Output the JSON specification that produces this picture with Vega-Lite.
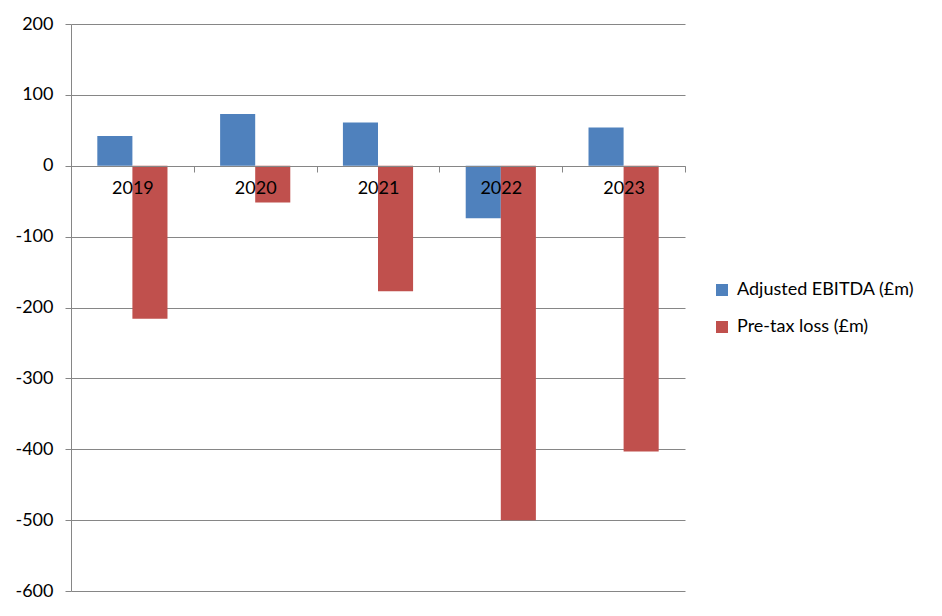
{
  "$schema": "https://vega.github.io/schema/vega-lite/v6.json",
  "width": 614,
  "height": 567,
  "autosize": {"type": "none"},
  "padding": {"left": 71, "top": 24, "right": 257, "bottom": 25},
  "background": "white",
  "config": {
    "view": {"stroke": null},
    "font": "Lato"
  },
  "data": {
    "values": [
      {"year": "2019", "series": "Adjusted EBITDA (£m)", "value": 42},
      {"year": "2019", "series": "Pre-tax loss (£m)", "value": -216},
      {"year": "2020", "series": "Adjusted EBITDA (£m)", "value": 73},
      {"year": "2020", "series": "Pre-tax loss (£m)", "value": -52},
      {"year": "2021", "series": "Adjusted EBITDA (£m)", "value": 61},
      {"year": "2021", "series": "Pre-tax loss (£m)", "value": -177},
      {"year": "2022", "series": "Adjusted EBITDA (£m)", "value": -74},
      {"year": "2022", "series": "Pre-tax loss (£m)", "value": -500},
      {"year": "2023", "series": "Adjusted EBITDA (£m)", "value": 54},
      {"year": "2023", "series": "Pre-tax loss (£m)", "value": -403}
    ]
  },
  "mark": {"type": "bar"},
  "encoding": {
    "x": {
      "field": "year",
      "type": "nominal",
      "scale": {"paddingInner": 0, "paddingOuter": 0},
      "axis": {
        "title": null,
        "orient": "bottom",
        "offset": -425,
        "labelAngle": 0,
        "labelFontSize": 18,
        "labelColor": "#000000",
        "labelPadding": 7,
        "domainColor": "#868686",
        "tickColor": "#868686",
        "tickSize": 6,
        "tickBand": "extent",
        "grid": false,
        "zindex": 1
      }
    },
    "xOffset": {
      "field": "series",
      "type": "nominal",
      "scale": {"paddingInner": 0, "paddingOuter": 0.75}
    },
    "y": {
      "field": "value",
      "type": "quantitative",
      "scale": {"domain": [-600, 200], "nice": false, "zero": false},
      "axis": {
        "title": null,
        "values": [-600, -500, -400, -300, -200, -100, 0, 100, 200],
        "labelExpr": "toString(datum.value)",
        "labelFontSize": 18,
        "labelColor": "#000000",
        "labelPadding": 12,
        "domainColor": "#868686",
        "tickColor": "#868686",
        "tickSize": 6,
        "gridColor": "#868686",
        "gridOpacity": 1,
        "zindex": 0
      }
    },
    "color": {
      "field": "series",
      "type": "nominal",
      "scale": {"range": ["#4F81BD", "#C0504D"]},
      "legend": {
        "title": null,
        "orient": "none",
        "legendX": 642,
        "legendY": 257,
        "symbolType": "square",
        "symbolSize": 144,
        "symbolStrokeWidth": 0,
        "symbolOpacity": 1,
        "labelFontSize": 18,
        "labelLimit": 0,
        "labelColor": "#000000",
        "labelOffset": 6,
        "rowPadding": 19
      }
    }
  }
}
